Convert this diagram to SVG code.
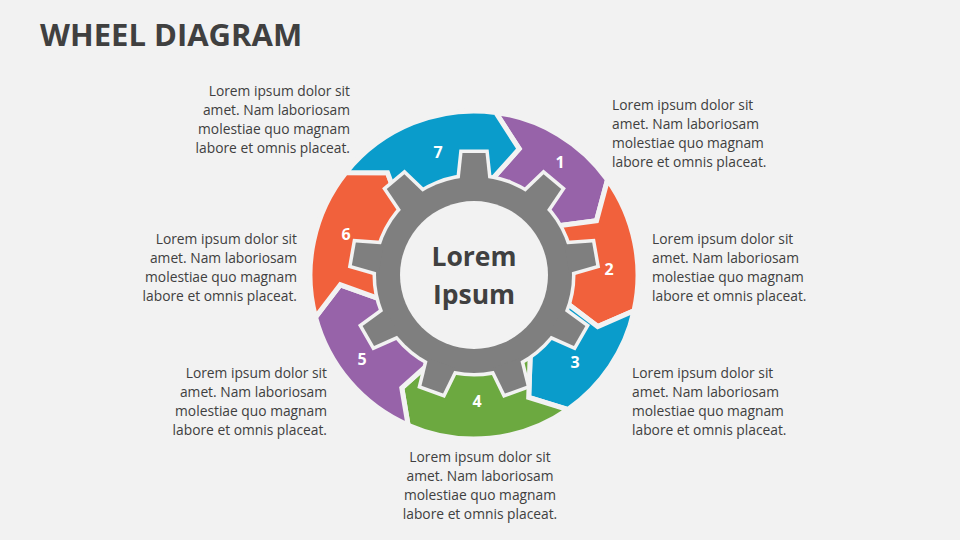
<svg xmlns="http://www.w3.org/2000/svg" xmlns:xlink="http://www.w3.org/1999/xlink" width="960" height="540" viewBox="0 0 960 540">
<style>
.title{font-family:"Open Sans","Liberation Sans",sans-serif;font-weight:700;font-size:31px;fill:#404040}
.body{font-family:"Open Sans","Liberation Sans",sans-serif;font-size:13.8px;fill:#404040}
.num{font-family:"Open Sans","Liberation Sans",sans-serif;font-weight:700;font-size:16px;fill:#ffffff;text-anchor:middle}
.center{font-family:"Open Sans","Liberation Sans",sans-serif;font-weight:700;font-size:26.5px;fill:#404040;text-anchor:middle}
.seg{stroke:#f2f2f2;stroke-width:5;stroke-linejoin:miter;stroke-miterlimit:2.5}
.end{text-anchor:end}
.mid{text-anchor:middle}
</style>
<defs>
<polygon id="tooth" points="-14.5,-94 14.5,-94 11.5,-122 -11.5,-122"/>
</defs>
<rect width="960" height="540" fill="#f2f2f2"/>
<text class="title" x="40" y="46">WHEEL DIAGRAM</text>

<g id="connectors"></g>

<g id="seg1">
<path class="seg" fill="#9763a9" d="M495.69,112.44 A164,164 0 0 1 607.51,179.77 L596.52,220.72 L558.70,225.71 A98,98 0 0 0 492.53,178.76 L519.17,148.84 Z"/>
<text class="num" x="560" y="167.5">1</text>
</g>
<g id="seg2">
<path class="seg" fill="#f1613c" d="M607.51,179.77 A164,164 0 0 1 634.05,310.77 L597.71,326.50 L567.72,303.66 A98,98 0 0 0 558.70,225.71 L596.52,220.72 Z"/>
<text class="num" x="609" y="274.5">2</text>
</g>
<g id="seg3">
<path class="seg" fill="#0a9ccb" d="M634.05,310.77 A164,164 0 0 1 567.82,409.51 L528.71,397.32 L530.21,355.28 A98,98 0 0 0 567.72,303.66 L597.71,326.50 Z"/>
<text class="num" x="575" y="368">3</text>
</g>
<g id="seg4">
<path class="seg" fill="#6ca940" d="M567.82,409.51 A164,164 0 0 1 408.09,425.17 L401.80,387.90 L430.12,362.63 A98,98 0 0 0 530.21,355.28 L528.71,397.32 Z"/>
<text class="num" x="477" y="407">4</text>
</g>
<g id="seg5">
<path class="seg" fill="#9763a9" d="M408.09,425.17 A164,164 0 0 1 315.51,317.16 L340.36,284.81 L378.87,298.54 A98,98 0 0 0 430.12,362.63 L401.80,387.90 Z"/>
<text class="num" x="362" y="364.5">5</text>
</g>
<g id="seg6">
<path class="seg" fill="#f1613c" d="M315.51,317.16 A164,164 0 0 1 346.01,172.47 L387.50,172.65 L401.18,209.43 A98,98 0 0 0 378.87,298.54 L340.36,284.81 Z"/>
<text class="num" x="346" y="239.5">6</text>
</g>
<g id="seg7">
<path class="seg" fill="#0a9ccb" d="M346.01,172.47 A164,164 0 0 1 495.69,112.44 L519.17,148.84 L492.53,178.76 A98,98 0 0 0 401.18,209.43 L387.50,172.65 Z"/>
<text class="num" x="438" y="157.5">7</text>
</g>

<g id="gear" transform="translate(474,275)">
<g stroke="#f2f2f2" stroke-width="7" fill="#f2f2f2" stroke-linejoin="miter">
<circle r="98"/>
<use xlink:href="#tooth"/>
<use xlink:href="#tooth" transform="rotate(40)"/>
<use xlink:href="#tooth" transform="rotate(80)"/>
<use xlink:href="#tooth" transform="rotate(120)"/>
<use xlink:href="#tooth" transform="rotate(160)"/>
<use xlink:href="#tooth" transform="rotate(200)"/>
<use xlink:href="#tooth" transform="rotate(240)"/>
<use xlink:href="#tooth" transform="rotate(280)"/>
<use xlink:href="#tooth" transform="rotate(320)"/>
</g>
<g fill="#7f7f7f">
<circle r="98"/>
<use xlink:href="#tooth"/>
<use xlink:href="#tooth" transform="rotate(40)"/>
<use xlink:href="#tooth" transform="rotate(80)"/>
<use xlink:href="#tooth" transform="rotate(120)"/>
<use xlink:href="#tooth" transform="rotate(160)"/>
<use xlink:href="#tooth" transform="rotate(200)"/>
<use xlink:href="#tooth" transform="rotate(240)"/>
<use xlink:href="#tooth" transform="rotate(280)"/>
<use xlink:href="#tooth" transform="rotate(320)"/>
</g>
<circle r="74" fill="#f2f2f2"/>
<text class="center" x="0" y="-9">Lorem</text>
<text class="center" x="0" y="29">Ipsum</text>
</g>

<g id="text7">
<text class="body end" x="350" y="95.5">Lorem ipsum dolor sit</text>
<text class="body end" x="350" y="114.5">amet. Nam laboriosam</text>
<text class="body end" x="350" y="133.5">molestiae quo magnam</text>
<text class="body end" x="350" y="152.5">labore et omnis placeat.</text>
</g>
<g id="text1">
<text class="body" x="612" y="110">Lorem ipsum dolor sit</text>
<text class="body" x="612" y="129">amet. Nam laboriosam</text>
<text class="body" x="612" y="148">molestiae quo magnam</text>
<text class="body" x="612" y="167">labore et omnis placeat.</text>
</g>
<g id="text2">
<text class="body" x="652" y="243.5">Lorem ipsum dolor sit</text>
<text class="body" x="652" y="262.5">amet. Nam laboriosam</text>
<text class="body" x="652" y="281.5">molestiae quo magnam</text>
<text class="body" x="652" y="300.5">labore et omnis placeat.</text>
</g>
<g id="text3">
<text class="body" x="632" y="377.5">Lorem ipsum dolor sit</text>
<text class="body" x="632" y="396.5">amet. Nam laboriosam</text>
<text class="body" x="632" y="415.5">molestiae quo magnam</text>
<text class="body" x="632" y="434.5">labore et omnis placeat.</text>
</g>
<g id="text4">
<text class="body mid" x="480" y="461.5">Lorem ipsum dolor sit</text>
<text class="body mid" x="480" y="480.5">amet. Nam laboriosam</text>
<text class="body mid" x="480" y="499.5">molestiae quo magnam</text>
<text class="body mid" x="480" y="518.5">labore et omnis placeat.</text>
</g>
<g id="text5">
<text class="body end" x="327" y="378">Lorem ipsum dolor sit</text>
<text class="body end" x="327" y="397">amet. Nam laboriosam</text>
<text class="body end" x="327" y="416">molestiae quo magnam</text>
<text class="body end" x="327" y="435">labore et omnis placeat.</text>
</g>
<g id="text6">
<text class="body end" x="297" y="243.5">Lorem ipsum dolor sit</text>
<text class="body end" x="297" y="262.5">amet. Nam laboriosam</text>
<text class="body end" x="297" y="281.5">molestiae quo magnam</text>
<text class="body end" x="297" y="300.5">labore et omnis placeat.</text>
</g>
</svg>
